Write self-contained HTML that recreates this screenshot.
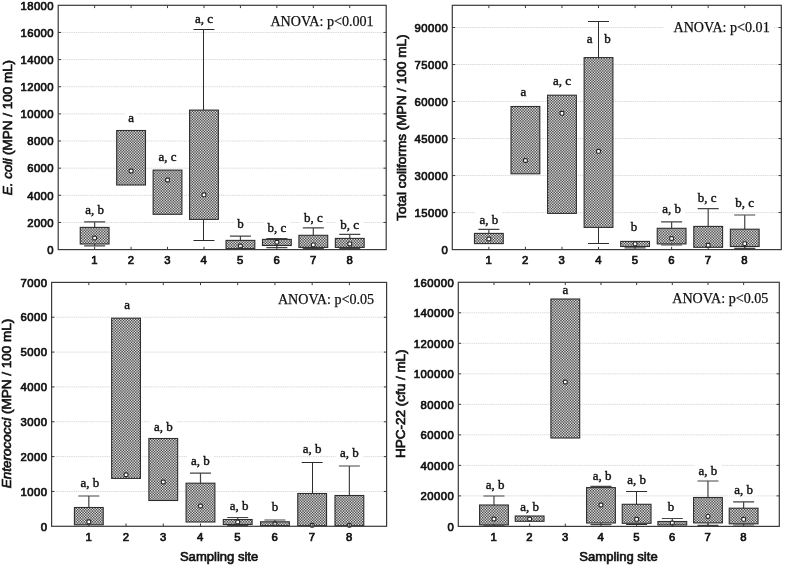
<!DOCTYPE html>
<html lang="en">
<head>
<meta charset="utf-8">
<title>Box plots by sampling site</title>
<style>
html,body{margin:0;padding:0;background:#fff;}
body{width:785px;height:569px;overflow:hidden;}
svg{display:block;}
.tk{font-family:"Liberation Sans", Arial, sans-serif;font-size:11.3px;fill:#111111;stroke:#111;stroke-width:0.7px;letter-spacing:0.45px;}
.lb{font-family:"Liberation Sans", Arial, sans-serif;font-size:12.7px;fill:#111111;stroke:#111;stroke-width:0.65px;}
.lt{font-family:"Liberation Serif", "Times New Roman", serif;font-size:13px;fill:#111111;stroke:#111;stroke-width:0.4px;}
.an{font-family:"Liberation Serif", "Times New Roman", serif;font-size:14.1px;fill:#111111;stroke:#111;stroke-width:0.25px;}
</style>
</head>
<body>
<svg width="785" height="569" viewBox="0 0 785 569">
<defs>
<pattern id="hatch" width="27" height="27" patternUnits="userSpaceOnUse"><rect width="27" height="27" fill="#e4e4e4"/><path d="M0 0h1.35v1.35h-1.35zM0 2.7h1.35v1.35h-1.35zM0 5.4h1.35v1.35h-1.35zM0 8.1h1.35v1.35h-1.35zM0 10.8h1.35v1.35h-1.35zM0 13.5h1.35v1.35h-1.35zM0 16.2h1.35v1.35h-1.35zM0 18.9h1.35v1.35h-1.35zM0 21.6h1.35v1.35h-1.35zM0 24.3h1.35v1.35h-1.35zM1.35 1.35h1.35v1.35h-1.35zM1.35 4.05h1.35v1.35h-1.35zM1.35 6.75h1.35v1.35h-1.35zM1.35 9.45h1.35v1.35h-1.35zM1.35 12.15h1.35v1.35h-1.35zM1.35 14.85h1.35v1.35h-1.35zM1.35 17.55h1.35v1.35h-1.35zM1.35 20.25h1.35v1.35h-1.35zM1.35 22.95h1.35v1.35h-1.35zM1.35 25.65h1.35v1.35h-1.35zM2.7 0h1.35v1.35h-1.35zM2.7 2.7h1.35v1.35h-1.35zM2.7 5.4h1.35v1.35h-1.35zM2.7 8.1h1.35v1.35h-1.35zM2.7 10.8h1.35v1.35h-1.35zM2.7 13.5h1.35v1.35h-1.35zM2.7 16.2h1.35v1.35h-1.35zM2.7 18.9h1.35v1.35h-1.35zM2.7 21.6h1.35v1.35h-1.35zM2.7 24.3h1.35v1.35h-1.35zM4.05 1.35h1.35v1.35h-1.35zM4.05 4.05h1.35v1.35h-1.35zM4.05 6.75h1.35v1.35h-1.35zM4.05 9.45h1.35v1.35h-1.35zM4.05 12.15h1.35v1.35h-1.35zM4.05 14.85h1.35v1.35h-1.35zM4.05 17.55h1.35v1.35h-1.35zM4.05 20.25h1.35v1.35h-1.35zM4.05 22.95h1.35v1.35h-1.35zM4.05 25.65h1.35v1.35h-1.35zM5.4 0h1.35v1.35h-1.35zM5.4 2.7h1.35v1.35h-1.35zM5.4 5.4h1.35v1.35h-1.35zM5.4 8.1h1.35v1.35h-1.35zM5.4 10.8h1.35v1.35h-1.35zM5.4 13.5h1.35v1.35h-1.35zM5.4 16.2h1.35v1.35h-1.35zM5.4 18.9h1.35v1.35h-1.35zM5.4 21.6h1.35v1.35h-1.35zM5.4 24.3h1.35v1.35h-1.35zM6.75 1.35h1.35v1.35h-1.35zM6.75 4.05h1.35v1.35h-1.35zM6.75 6.75h1.35v1.35h-1.35zM6.75 9.45h1.35v1.35h-1.35zM6.75 12.15h1.35v1.35h-1.35zM6.75 14.85h1.35v1.35h-1.35zM6.75 17.55h1.35v1.35h-1.35zM6.75 20.25h1.35v1.35h-1.35zM6.75 22.95h1.35v1.35h-1.35zM6.75 25.65h1.35v1.35h-1.35zM8.1 0h1.35v1.35h-1.35zM8.1 2.7h1.35v1.35h-1.35zM8.1 5.4h1.35v1.35h-1.35zM8.1 8.1h1.35v1.35h-1.35zM8.1 10.8h1.35v1.35h-1.35zM8.1 13.5h1.35v1.35h-1.35zM8.1 16.2h1.35v1.35h-1.35zM8.1 18.9h1.35v1.35h-1.35zM8.1 21.6h1.35v1.35h-1.35zM8.1 24.3h1.35v1.35h-1.35zM9.45 1.35h1.35v1.35h-1.35zM9.45 4.05h1.35v1.35h-1.35zM9.45 6.75h1.35v1.35h-1.35zM9.45 9.45h1.35v1.35h-1.35zM9.45 12.15h1.35v1.35h-1.35zM9.45 14.85h1.35v1.35h-1.35zM9.45 17.55h1.35v1.35h-1.35zM9.45 20.25h1.35v1.35h-1.35zM9.45 22.95h1.35v1.35h-1.35zM9.45 25.65h1.35v1.35h-1.35zM10.8 0h1.35v1.35h-1.35zM10.8 2.7h1.35v1.35h-1.35zM10.8 5.4h1.35v1.35h-1.35zM10.8 8.1h1.35v1.35h-1.35zM10.8 10.8h1.35v1.35h-1.35zM10.8 13.5h1.35v1.35h-1.35zM10.8 16.2h1.35v1.35h-1.35zM10.8 18.9h1.35v1.35h-1.35zM10.8 21.6h1.35v1.35h-1.35zM10.8 24.3h1.35v1.35h-1.35zM12.15 1.35h1.35v1.35h-1.35zM12.15 4.05h1.35v1.35h-1.35zM12.15 6.75h1.35v1.35h-1.35zM12.15 9.45h1.35v1.35h-1.35zM12.15 12.15h1.35v1.35h-1.35zM12.15 14.85h1.35v1.35h-1.35zM12.15 17.55h1.35v1.35h-1.35zM12.15 20.25h1.35v1.35h-1.35zM12.15 22.95h1.35v1.35h-1.35zM12.15 25.65h1.35v1.35h-1.35zM13.5 0h1.35v1.35h-1.35zM13.5 2.7h1.35v1.35h-1.35zM13.5 5.4h1.35v1.35h-1.35zM13.5 8.1h1.35v1.35h-1.35zM13.5 10.8h1.35v1.35h-1.35zM13.5 13.5h1.35v1.35h-1.35zM13.5 16.2h1.35v1.35h-1.35zM13.5 18.9h1.35v1.35h-1.35zM13.5 21.6h1.35v1.35h-1.35zM13.5 24.3h1.35v1.35h-1.35zM14.85 1.35h1.35v1.35h-1.35zM14.85 4.05h1.35v1.35h-1.35zM14.85 6.75h1.35v1.35h-1.35zM14.85 9.45h1.35v1.35h-1.35zM14.85 12.15h1.35v1.35h-1.35zM14.85 14.85h1.35v1.35h-1.35zM14.85 17.55h1.35v1.35h-1.35zM14.85 20.25h1.35v1.35h-1.35zM14.85 22.95h1.35v1.35h-1.35zM14.85 25.65h1.35v1.35h-1.35zM16.2 0h1.35v1.35h-1.35zM16.2 2.7h1.35v1.35h-1.35zM16.2 5.4h1.35v1.35h-1.35zM16.2 8.1h1.35v1.35h-1.35zM16.2 10.8h1.35v1.35h-1.35zM16.2 13.5h1.35v1.35h-1.35zM16.2 16.2h1.35v1.35h-1.35zM16.2 18.9h1.35v1.35h-1.35zM16.2 21.6h1.35v1.35h-1.35zM16.2 24.3h1.35v1.35h-1.35zM17.55 1.35h1.35v1.35h-1.35zM17.55 4.05h1.35v1.35h-1.35zM17.55 6.75h1.35v1.35h-1.35zM17.55 9.45h1.35v1.35h-1.35zM17.55 12.15h1.35v1.35h-1.35zM17.55 14.85h1.35v1.35h-1.35zM17.55 17.55h1.35v1.35h-1.35zM17.55 20.25h1.35v1.35h-1.35zM17.55 22.95h1.35v1.35h-1.35zM17.55 25.65h1.35v1.35h-1.35zM18.9 0h1.35v1.35h-1.35zM18.9 2.7h1.35v1.35h-1.35zM18.9 5.4h1.35v1.35h-1.35zM18.9 8.1h1.35v1.35h-1.35zM18.9 10.8h1.35v1.35h-1.35zM18.9 13.5h1.35v1.35h-1.35zM18.9 16.2h1.35v1.35h-1.35zM18.9 18.9h1.35v1.35h-1.35zM18.9 21.6h1.35v1.35h-1.35zM18.9 24.3h1.35v1.35h-1.35zM20.25 1.35h1.35v1.35h-1.35zM20.25 4.05h1.35v1.35h-1.35zM20.25 6.75h1.35v1.35h-1.35zM20.25 9.45h1.35v1.35h-1.35zM20.25 12.15h1.35v1.35h-1.35zM20.25 14.85h1.35v1.35h-1.35zM20.25 17.55h1.35v1.35h-1.35zM20.25 20.25h1.35v1.35h-1.35zM20.25 22.95h1.35v1.35h-1.35zM20.25 25.65h1.35v1.35h-1.35zM21.6 0h1.35v1.35h-1.35zM21.6 2.7h1.35v1.35h-1.35zM21.6 5.4h1.35v1.35h-1.35zM21.6 8.1h1.35v1.35h-1.35zM21.6 10.8h1.35v1.35h-1.35zM21.6 13.5h1.35v1.35h-1.35zM21.6 16.2h1.35v1.35h-1.35zM21.6 18.9h1.35v1.35h-1.35zM21.6 21.6h1.35v1.35h-1.35zM21.6 24.3h1.35v1.35h-1.35zM22.95 1.35h1.35v1.35h-1.35zM22.95 4.05h1.35v1.35h-1.35zM22.95 6.75h1.35v1.35h-1.35zM22.95 9.45h1.35v1.35h-1.35zM22.95 12.15h1.35v1.35h-1.35zM22.95 14.85h1.35v1.35h-1.35zM22.95 17.55h1.35v1.35h-1.35zM22.95 20.25h1.35v1.35h-1.35zM22.95 22.95h1.35v1.35h-1.35zM22.95 25.65h1.35v1.35h-1.35zM24.3 0h1.35v1.35h-1.35zM24.3 2.7h1.35v1.35h-1.35zM24.3 5.4h1.35v1.35h-1.35zM24.3 8.1h1.35v1.35h-1.35zM24.3 10.8h1.35v1.35h-1.35zM24.3 13.5h1.35v1.35h-1.35zM24.3 16.2h1.35v1.35h-1.35zM24.3 18.9h1.35v1.35h-1.35zM24.3 21.6h1.35v1.35h-1.35zM24.3 24.3h1.35v1.35h-1.35zM25.65 1.35h1.35v1.35h-1.35zM25.65 4.05h1.35v1.35h-1.35zM25.65 6.75h1.35v1.35h-1.35zM25.65 9.45h1.35v1.35h-1.35zM25.65 12.15h1.35v1.35h-1.35zM25.65 14.85h1.35v1.35h-1.35zM25.65 17.55h1.35v1.35h-1.35zM25.65 20.25h1.35v1.35h-1.35zM25.65 22.95h1.35v1.35h-1.35zM25.65 25.65h1.35v1.35h-1.35z" fill="#454545"/></pattern>
</defs>
<rect width="785" height="569" fill="#ffffff"/>
<g id="panel1">
<path d="M58.2 222.46H386.2M58.2 195.31H386.2M58.2 168.17H386.2M58.2 141.02H386.2M58.2 113.88H386.2M58.2 86.73H386.2M58.2 59.59H386.2M58.2 32.44H386.2" stroke="#d9d9d9" stroke-width="1" stroke-dasharray="1.4 0.8" fill="none"/>
<path d="M84.14 221.9H105.14M94.64 221.9V227.4M84.14 245.9H105.14M94.64 245.9V244" stroke="#444444" stroke-width="1.2" fill="none"/>
<rect x="80.24" y="227.4" width="28.8" height="16.6" fill="url(#hatch)" stroke="#2e2e2e" stroke-width="1.1"/>
<rect x="92.74" y="236.1" width="3.8" height="3.8" rx="1.2" fill="#fff" stroke="#262626" stroke-width="1.15"/>
<rect x="116.69" y="130.5" width="28.8" height="54.5" fill="url(#hatch)" stroke="#2e2e2e" stroke-width="1.1"/>
<rect x="129.19" y="169.1" width="3.8" height="3.8" rx="1.2" fill="#fff" stroke="#262626" stroke-width="1.15"/>
<rect x="153.13" y="170.1" width="28.8" height="44.2" fill="url(#hatch)" stroke="#2e2e2e" stroke-width="1.1"/>
<rect x="165.63" y="178.1" width="3.8" height="3.8" rx="1.2" fill="#fff" stroke="#262626" stroke-width="1.15"/>
<path d="M193.48 29.5H214.48M203.5 29.5V110.1M193.48 240.5H214.48M203.5 240.5V219.4" stroke="#2c2c2c" stroke-width="1" fill="none"/>
<rect x="189.58" y="110.1" width="28.8" height="109.3" fill="url(#hatch)" stroke="#2e2e2e" stroke-width="1.1"/>
<rect x="202.08" y="192.9" width="3.8" height="3.8" rx="1.2" fill="#fff" stroke="#262626" stroke-width="1.15"/>
<path d="M229.92 236.2H250.92M240.42 236.2V240.4" stroke="#444444" stroke-width="1.2" fill="none"/>
<rect x="226.02" y="240.4" width="28.8" height="8.2" fill="url(#hatch)" stroke="#2e2e2e" stroke-width="1.1"/>
<rect x="238.52" y="244.1" width="3.8" height="3.8" rx="1.2" fill="#fff" stroke="#262626" stroke-width="1.15"/>
<path d="M266.37 238.5H287.37M276.87 238.5V239.4M266.37 247.7H287.37M276.87 247.7V245.5" stroke="#444444" stroke-width="1.2" fill="none"/>
<rect x="262.47" y="239.4" width="28.8" height="6.1" fill="url(#hatch)" stroke="#2e2e2e" stroke-width="1.1"/>
<rect x="274.97" y="240.3" width="3.8" height="3.8" rx="1.2" fill="#fff" stroke="#262626" stroke-width="1.15"/>
<path d="M302.81 227.9H323.81M313.31 227.9V235.3M302.81 248.3H323.81M313.31 248.3V247.4" stroke="#444444" stroke-width="1.2" fill="none"/>
<rect x="298.91" y="235.3" width="28.8" height="12.1" fill="url(#hatch)" stroke="#2e2e2e" stroke-width="1.1"/>
<rect x="311.41" y="243" width="3.8" height="3.8" rx="1.2" fill="#fff" stroke="#262626" stroke-width="1.15"/>
<path d="M339.26 234.3H360.26M349.76 234.3V238.4M339.26 248.3H360.26M349.76 248.3V247.4" stroke="#444444" stroke-width="1.2" fill="none"/>
<rect x="335.36" y="238.4" width="28.8" height="9" fill="url(#hatch)" stroke="#2e2e2e" stroke-width="1.1"/>
<rect x="347.86" y="242" width="3.8" height="3.8" rx="1.2" fill="#fff" stroke="#262626" stroke-width="1.15"/>
<rect x="81.14" y="201" width="27" height="15" fill="#fff"/>
<text class="lt" x="94.64" y="214" text-anchor="middle">a, b</text>
<rect x="125.09" y="109.2" width="12" height="15" fill="#fff"/>
<text class="lt" x="131.09" y="122.2" text-anchor="middle">a</text>
<rect x="154.03" y="147.8" width="27" height="15" fill="#fff"/>
<text class="lt" x="167.53" y="160.8" text-anchor="middle">a, c</text>
<rect x="190.48" y="9.9" width="27" height="15" fill="#fff"/>
<text class="lt" x="203.98" y="22.9" text-anchor="middle">a, c</text>
<rect x="234.42" y="215.3" width="12" height="15" fill="#fff"/>
<text class="lt" x="240.42" y="228.3" text-anchor="middle">b</text>
<rect x="263.37" y="219" width="27" height="15" fill="#fff"/>
<text class="lt" x="276.87" y="232" text-anchor="middle">b, c</text>
<rect x="299.81" y="208.6" width="27" height="15" fill="#fff"/>
<text class="lt" x="313.31" y="221.6" text-anchor="middle">b, c</text>
<rect x="336.26" y="215.6" width="27" height="15" fill="#fff"/>
<text class="lt" x="349.76" y="228.6" text-anchor="middle">b, c</text>
<rect x="267.6" y="13.9" width="110" height="16" fill="#fff"/>
<text class="an" x="373.6" y="25.9" text-anchor="end">ANOVA: p&lt;0.001</text>
<path d="M58.2 222.46h2.8M386.2 222.46h-2.8M58.2 195.31h2.8M386.2 195.31h-2.8M58.2 168.17h2.8M386.2 168.17h-2.8M58.2 141.02h2.8M386.2 141.02h-2.8M58.2 113.88h2.8M386.2 113.88h-2.8M58.2 86.73h2.8M386.2 86.73h-2.8M58.2 59.59h2.8M386.2 59.59h-2.8M58.2 32.44h2.8M386.2 32.44h-2.8M94.64 249.6v-2.8M94.64 5.3v2.8M131.09 249.6v-2.8M131.09 5.3v2.8M167.53 249.6v-2.8M167.53 5.3v2.8M203.98 249.6v-2.8M203.98 5.3v2.8M240.42 249.6v-2.8M240.42 5.3v2.8M276.87 249.6v-2.8M276.87 5.3v2.8M313.31 249.6v-2.8M313.31 5.3v2.8M349.76 249.6v-2.8M349.76 5.3v2.8" stroke="#3a3a3a" stroke-width="1" fill="none"/>
<rect x="58.2" y="5.3" width="328" height="244.3" fill="none" stroke="#3a3a3a" stroke-width="1.2"/>
<text class="tk" x="54.1" y="253.85" text-anchor="end">0</text>
<text class="tk" x="54.1" y="226.71" text-anchor="end">2000</text>
<text class="tk" x="54.1" y="199.56" text-anchor="end">4000</text>
<text class="tk" x="54.1" y="172.42" text-anchor="end">6000</text>
<text class="tk" x="54.1" y="145.27" text-anchor="end">8000</text>
<text class="tk" x="54.1" y="118.13" text-anchor="end">10000</text>
<text class="tk" x="54.1" y="90.98" text-anchor="end">12000</text>
<text class="tk" x="54.1" y="63.84" text-anchor="end">14000</text>
<text class="tk" x="54.1" y="36.69" text-anchor="end">16000</text>
<text class="tk" x="54.1" y="9.55" text-anchor="end">18000</text>
<text class="tk" x="94.64" y="264.2" text-anchor="middle">1</text>
<text class="tk" x="131.09" y="264.2" text-anchor="middle">2</text>
<text class="tk" x="167.53" y="264.2" text-anchor="middle">3</text>
<text class="tk" x="203.98" y="264.2" text-anchor="middle">4</text>
<text class="tk" x="240.42" y="264.2" text-anchor="middle">5</text>
<text class="tk" x="276.87" y="264.2" text-anchor="middle">6</text>
<text class="tk" x="313.31" y="264.2" text-anchor="middle">7</text>
<text class="tk" x="349.76" y="264.2" text-anchor="middle">8</text>
<text class="lb" transform="translate(11.7 127.6) rotate(-90)" text-anchor="middle" textLength="135.4" lengthAdjust="spacingAndGlyphs" xml:space="preserve"><tspan font-style="italic">E. coli</tspan> (MPN / 100 mL)</text>
</g>
<g id="panel2">
<path d="M452.3 212.58H781.3M452.3 175.57H781.3M452.3 138.55H781.3M452.3 101.54H781.3M452.3 64.52H781.3M452.3 27.51H781.3" stroke="#d9d9d9" stroke-width="1" stroke-dasharray="1.4 0.8" fill="none"/>
<path d="M478.36 229.3H499.36M488.86 229.3V233.4" stroke="#444444" stroke-width="1.2" fill="none"/>
<rect x="474.46" y="233.4" width="28.8" height="10.2" fill="url(#hatch)" stroke="#2e2e2e" stroke-width="1.1"/>
<rect x="486.96" y="237.1" width="3.8" height="3.8" rx="1.2" fill="#fff" stroke="#262626" stroke-width="1.15"/>
<rect x="511.01" y="106.5" width="28.8" height="67.3" fill="url(#hatch)" stroke="#2e2e2e" stroke-width="1.1"/>
<rect x="523.51" y="158.6" width="3.8" height="3.8" rx="1.2" fill="#fff" stroke="#262626" stroke-width="1.15"/>
<rect x="547.57" y="95.2" width="28.8" height="118.2" fill="url(#hatch)" stroke="#2e2e2e" stroke-width="1.1"/>
<rect x="560.07" y="111.4" width="3.8" height="3.8" rx="1.2" fill="#fff" stroke="#262626" stroke-width="1.15"/>
<path d="M588.02 21.5H609.02M598.5 21.5V57.6M588.02 243.5H609.02M598.5 243.5V227.4" stroke="#2c2c2c" stroke-width="1" fill="none"/>
<rect x="584.12" y="57.6" width="28.8" height="169.8" fill="url(#hatch)" stroke="#2e2e2e" stroke-width="1.1"/>
<rect x="596.62" y="149.4" width="3.8" height="3.8" rx="1.2" fill="#fff" stroke="#262626" stroke-width="1.15"/>
<path d="M624.58 247.9H645.58M635.08 247.9V246.5" stroke="#444444" stroke-width="1.2" fill="none"/>
<rect x="620.68" y="241.4" width="28.8" height="5.1" fill="url(#hatch)" stroke="#2e2e2e" stroke-width="1.1"/>
<rect x="633.18" y="242" width="3.8" height="3.8" rx="1.2" fill="#fff" stroke="#262626" stroke-width="1.15"/>
<path d="M661.13 221.9H682.13M671.63 221.9V228.3M661.13 245H682.13M671.63 245V243.9" stroke="#444444" stroke-width="1.2" fill="none"/>
<rect x="657.23" y="228.3" width="28.8" height="15.6" fill="url(#hatch)" stroke="#2e2e2e" stroke-width="1.1"/>
<rect x="669.73" y="236.6" width="3.8" height="3.8" rx="1.2" fill="#fff" stroke="#262626" stroke-width="1.15"/>
<path d="M697.69 208.7H718.69M708.19 208.7V226.4" stroke="#444444" stroke-width="1.2" fill="none"/>
<rect x="693.79" y="226.4" width="28.8" height="20.9" fill="url(#hatch)" stroke="#2e2e2e" stroke-width="1.1"/>
<rect x="706.29" y="243.3" width="3.8" height="3.8" rx="1.2" fill="#fff" stroke="#262626" stroke-width="1.15"/>
<path d="M734.24 215H755.24M744.74 215V229.2M734.24 248.3H755.24M744.74 248.3V246.5" stroke="#444444" stroke-width="1.2" fill="none"/>
<rect x="730.34" y="229.2" width="28.8" height="17.3" fill="url(#hatch)" stroke="#2e2e2e" stroke-width="1.1"/>
<rect x="742.84" y="241.7" width="3.8" height="3.8" rx="1.2" fill="#fff" stroke="#262626" stroke-width="1.15"/>
<rect x="475.36" y="211" width="27" height="15" fill="#fff"/>
<text class="lt" x="488.86" y="224" text-anchor="middle">a, b</text>
<rect x="517.41" y="82.8" width="12" height="15" fill="#fff"/>
<text class="lt" x="523.41" y="95.8" text-anchor="middle">a</text>
<rect x="548.47" y="72" width="27" height="15" fill="#fff"/>
<text class="lt" x="561.97" y="85" text-anchor="middle">a, c</text>
<text class="lt" x="589.52" y="42.9" text-anchor="middle">a</text>
<text class="lt" x="607.52" y="42.9" text-anchor="middle">b</text>
<rect x="628.08" y="218" width="12" height="15" fill="#fff"/>
<text class="lt" x="634.08" y="231" text-anchor="middle">b</text>
<rect x="658.13" y="199.8" width="27" height="15" fill="#fff"/>
<text class="lt" x="671.63" y="212.8" text-anchor="middle">a, b</text>
<rect x="693.69" y="188.5" width="27" height="15" fill="#fff"/>
<text class="lt" x="707.19" y="201.5" text-anchor="middle">b, c</text>
<rect x="731.24" y="193.9" width="27" height="15" fill="#fff"/>
<text class="lt" x="744.74" y="206.9" text-anchor="middle">b, c</text>
<rect x="663.7" y="20.2" width="110" height="16" fill="#fff"/>
<text class="an" x="769.7" y="32.2" text-anchor="end">ANOVA: p&lt;0.01</text>
<path d="M452.3 212.58h2.8M781.3 212.58h-2.8M452.3 175.57h2.8M781.3 175.57h-2.8M452.3 138.55h2.8M781.3 138.55h-2.8M452.3 101.54h2.8M781.3 101.54h-2.8M452.3 64.52h2.8M781.3 64.52h-2.8M452.3 27.51h2.8M781.3 27.51h-2.8M488.86 249.6v-2.8M488.86 5.3v2.8M525.41 249.6v-2.8M525.41 5.3v2.8M561.97 249.6v-2.8M561.97 5.3v2.8M598.52 249.6v-2.8M598.52 5.3v2.8M635.08 249.6v-2.8M635.08 5.3v2.8M671.63 249.6v-2.8M671.63 5.3v2.8M708.19 249.6v-2.8M708.19 5.3v2.8M744.74 249.6v-2.8M744.74 5.3v2.8" stroke="#3a3a3a" stroke-width="1" fill="none"/>
<rect x="452.3" y="5.3" width="329" height="244.3" fill="none" stroke="#3a3a3a" stroke-width="1.2"/>
<text class="tk" x="448.2" y="253.85" text-anchor="end">0</text>
<text class="tk" x="448.2" y="216.83" text-anchor="end">15000</text>
<text class="tk" x="448.2" y="179.82" text-anchor="end">30000</text>
<text class="tk" x="448.2" y="142.8" text-anchor="end">45000</text>
<text class="tk" x="448.2" y="105.79" text-anchor="end">60000</text>
<text class="tk" x="448.2" y="68.77" text-anchor="end">75000</text>
<text class="tk" x="448.2" y="31.76" text-anchor="end">90000</text>
<text class="tk" x="488.86" y="264.2" text-anchor="middle">1</text>
<text class="tk" x="525.41" y="264.2" text-anchor="middle">2</text>
<text class="tk" x="561.97" y="264.2" text-anchor="middle">3</text>
<text class="tk" x="598.52" y="264.2" text-anchor="middle">4</text>
<text class="tk" x="635.08" y="264.2" text-anchor="middle">5</text>
<text class="tk" x="671.63" y="264.2" text-anchor="middle">6</text>
<text class="tk" x="708.19" y="264.2" text-anchor="middle">7</text>
<text class="tk" x="744.74" y="264.2" text-anchor="middle">8</text>
<text class="lb" transform="translate(406 127.6) rotate(-90)" text-anchor="middle" textLength="186.4" lengthAdjust="spacingAndGlyphs" xml:space="preserve">Total coliforms (MPN / 100 mL)</text>
</g>
<g id="panel3">
<path d="M51.6 491.46H386.6M51.6 456.61H386.6M51.6 421.77H386.6M51.6 386.93H386.6M51.6 352.09H386.6M51.6 317.24H386.6" stroke="#d9d9d9" stroke-width="1" stroke-dasharray="1.4 0.8" fill="none"/>
<path d="M78.32 496H99.32M88.82 496V507.5" stroke="#444444" stroke-width="1.2" fill="none"/>
<rect x="74.42" y="507.5" width="28.8" height="17.3" fill="url(#hatch)" stroke="#2e2e2e" stroke-width="1.1"/>
<rect x="86.92" y="519.9" width="3.8" height="3.8" rx="1.2" fill="#fff" stroke="#262626" stroke-width="1.15"/>
<rect x="111.64" y="318.2" width="28.8" height="160.2" fill="url(#hatch)" stroke="#2e2e2e" stroke-width="1.1"/>
<rect x="124.14" y="472.8" width="3.8" height="3.8" rx="1.2" fill="#fff" stroke="#262626" stroke-width="1.15"/>
<rect x="148.87" y="438.5" width="28.8" height="62" fill="url(#hatch)" stroke="#2e2e2e" stroke-width="1.1"/>
<rect x="161.37" y="480.1" width="3.8" height="3.8" rx="1.2" fill="#fff" stroke="#262626" stroke-width="1.15"/>
<path d="M189.99 473.2H210.99M200.49 473.2V483.2" stroke="#444444" stroke-width="1.2" fill="none"/>
<rect x="186.09" y="483.2" width="28.8" height="38.8" fill="url(#hatch)" stroke="#2e2e2e" stroke-width="1.1"/>
<rect x="198.59" y="504.1" width="3.8" height="3.8" rx="1.2" fill="#fff" stroke="#262626" stroke-width="1.15"/>
<path d="M227.21 517.5H248.21M237.71 517.5V519.5M227.21 525.6H248.21M237.71 525.6V524.5" stroke="#444444" stroke-width="1.2" fill="none"/>
<rect x="223.31" y="519.5" width="28.8" height="5" fill="url(#hatch)" stroke="#2e2e2e" stroke-width="1.1"/>
<rect x="235.81" y="520.1" width="3.8" height="3.8" rx="1.2" fill="#fff" stroke="#262626" stroke-width="1.15"/>
<path d="M264.43 520H285.43M274.93 520V521.8" stroke="#444444" stroke-width="1.2" fill="none"/>
<rect x="260.53" y="521.8" width="28.8" height="3.8" fill="url(#hatch)" stroke="#2e2e2e" stroke-width="1.1"/>
<rect x="273.03" y="522.1" width="3.8" height="3.8" rx="1.2" fill="#fff" stroke="#262626" stroke-width="1.15"/>
<path d="M301.66 462.5H322.66M312.5 462.5V493.5" stroke="#2c2c2c" stroke-width="1" fill="none"/>
<rect x="297.76" y="493.5" width="28.8" height="32.2" fill="url(#hatch)" stroke="#2e2e2e" stroke-width="1.1"/>
<rect x="310.26" y="523.3" width="3.8" height="3.8" rx="1.2" fill="#fff" stroke="#262626" stroke-width="1.15"/>
<path d="M338.88 466H359.88M349.38 466V495.5" stroke="#444444" stroke-width="1.2" fill="none"/>
<rect x="334.98" y="495.5" width="28.8" height="30.2" fill="url(#hatch)" stroke="#2e2e2e" stroke-width="1.1"/>
<rect x="347.48" y="523.3" width="3.8" height="3.8" rx="1.2" fill="#fff" stroke="#262626" stroke-width="1.15"/>
<rect x="76.32" y="473.8" width="27" height="15" fill="#fff"/>
<text class="lt" x="89.82" y="486.8" text-anchor="middle">a, b</text>
<rect x="121.14" y="296" width="12" height="15" fill="#fff"/>
<text class="lt" x="127.14" y="309" text-anchor="middle">a</text>
<rect x="149.77" y="418" width="27" height="15" fill="#fff"/>
<text class="lt" x="163.27" y="431" text-anchor="middle">a, b</text>
<rect x="186.99" y="451.6" width="27" height="15" fill="#fff"/>
<text class="lt" x="200.49" y="464.6" text-anchor="middle">a, b</text>
<rect x="225.61" y="496.7" width="27" height="15" fill="#fff"/>
<text class="lt" x="239.11" y="509.7" text-anchor="middle">a, b</text>
<rect x="268.93" y="497.7" width="12" height="15" fill="#fff"/>
<text class="lt" x="274.93" y="510.7" text-anchor="middle">b</text>
<rect x="298.66" y="439.5" width="27" height="15" fill="#fff"/>
<text class="lt" x="312.16" y="452.5" text-anchor="middle">a, b</text>
<rect x="335.88" y="444.2" width="27" height="15" fill="#fff"/>
<text class="lt" x="349.38" y="457.2" text-anchor="middle">a, b</text>
<rect x="268.1" y="291.9" width="110" height="16" fill="#fff"/>
<text class="an" x="374.1" y="303.9" text-anchor="end">ANOVA: p&lt;0.05</text>
<path d="M51.6 491.46h2.8M386.6 491.46h-2.8M51.6 456.61h2.8M386.6 456.61h-2.8M51.6 421.77h2.8M386.6 421.77h-2.8M51.6 386.93h2.8M386.6 386.93h-2.8M51.6 352.09h2.8M386.6 352.09h-2.8M51.6 317.24h2.8M386.6 317.24h-2.8M88.82 526.3v-2.8M88.82 282.4v2.8M126.04 526.3v-2.8M126.04 282.4v2.8M163.27 526.3v-2.8M163.27 282.4v2.8M200.49 526.3v-2.8M200.49 282.4v2.8M237.71 526.3v-2.8M237.71 282.4v2.8M274.93 526.3v-2.8M274.93 282.4v2.8M312.16 526.3v-2.8M312.16 282.4v2.8M349.38 526.3v-2.8M349.38 282.4v2.8" stroke="#3a3a3a" stroke-width="1" fill="none"/>
<rect x="51.6" y="282.4" width="335" height="243.9" fill="none" stroke="#3a3a3a" stroke-width="1.2"/>
<text class="tk" x="47.5" y="530.55" text-anchor="end">0</text>
<text class="tk" x="47.5" y="495.71" text-anchor="end">1000</text>
<text class="tk" x="47.5" y="460.86" text-anchor="end">2000</text>
<text class="tk" x="47.5" y="426.02" text-anchor="end">3000</text>
<text class="tk" x="47.5" y="391.18" text-anchor="end">4000</text>
<text class="tk" x="47.5" y="356.34" text-anchor="end">5000</text>
<text class="tk" x="47.5" y="321.49" text-anchor="end">6000</text>
<text class="tk" x="47.5" y="286.65" text-anchor="end">7000</text>
<text class="tk" x="88.82" y="540.9" text-anchor="middle">1</text>
<text class="tk" x="126.04" y="540.9" text-anchor="middle">2</text>
<text class="tk" x="163.27" y="540.9" text-anchor="middle">3</text>
<text class="tk" x="200.49" y="540.9" text-anchor="middle">4</text>
<text class="tk" x="237.71" y="540.9" text-anchor="middle">5</text>
<text class="tk" x="274.93" y="540.9" text-anchor="middle">6</text>
<text class="tk" x="312.16" y="540.9" text-anchor="middle">7</text>
<text class="tk" x="349.38" y="540.9" text-anchor="middle">8</text>
<text class="lb" transform="translate(11.3 403.6) rotate(-90)" text-anchor="middle" textLength="169.5" lengthAdjust="spacingAndGlyphs" xml:space="preserve"><tspan font-style="italic">Enterococci</tspan> (MPN / 100 mL)</text>
<text class="lb" x="219.1" y="560.7" text-anchor="middle" style="font-size:13.05px">Sampling site</text>
</g>
<g id="panel4">
<path d="M458.3 495.89H779.3M458.3 465.38H779.3M458.3 434.86H779.3M458.3 404.35H779.3M458.3 373.84H779.3M458.3 343.32H779.3M458.3 312.81H779.3" stroke="#d9d9d9" stroke-width="1" stroke-dasharray="1.4 0.8" fill="none"/>
<path d="M483.47 496H504.47M493.97 496V505M483.47 525.8H504.47M493.97 525.8V524.9" stroke="#444444" stroke-width="1.2" fill="none"/>
<rect x="479.57" y="505" width="28.8" height="19.9" fill="url(#hatch)" stroke="#2e2e2e" stroke-width="1.1"/>
<rect x="492.07" y="517.1" width="3.8" height="3.8" rx="1.2" fill="#fff" stroke="#262626" stroke-width="1.15"/>
<rect x="515.23" y="516" width="28.8" height="5.3" fill="url(#hatch)" stroke="#2e2e2e" stroke-width="1.1"/>
<rect x="527.73" y="517.1" width="3.8" height="3.8" rx="1.2" fill="#fff" stroke="#262626" stroke-width="1.15"/>
<rect x="550.9" y="299" width="28.8" height="139" fill="url(#hatch)" stroke="#2e2e2e" stroke-width="1.1"/>
<rect x="563.4" y="380.1" width="3.8" height="3.8" rx="1.2" fill="#fff" stroke="#262626" stroke-width="1.15"/>
<path d="M590.47 486.3H611.47M600.97 486.3V487.6M590.47 524.7H611.47M600.97 524.7V523" stroke="#444444" stroke-width="1.2" fill="none"/>
<rect x="586.57" y="487.6" width="28.8" height="35.4" fill="url(#hatch)" stroke="#2e2e2e" stroke-width="1.1"/>
<rect x="599.07" y="503.1" width="3.8" height="3.8" rx="1.2" fill="#fff" stroke="#262626" stroke-width="1.15"/>
<path d="M626.13 491.5H647.13M636.5 491.5V504.3M626.13 524.5H647.13M636.5 524.5V523.3" stroke="#2c2c2c" stroke-width="1" fill="none"/>
<rect x="622.23" y="504.3" width="28.8" height="19" fill="url(#hatch)" stroke="#2e2e2e" stroke-width="1.1"/>
<rect x="634.73" y="517.4" width="3.8" height="3.8" rx="1.2" fill="#fff" stroke="#262626" stroke-width="1.15"/>
<path d="M661.8 518.5H682.8M672.3 518.5V521.5" stroke="#444444" stroke-width="1.2" fill="none"/>
<rect x="657.9" y="521.5" width="28.8" height="3.5" fill="url(#hatch)" stroke="#2e2e2e" stroke-width="1.1"/>
<rect x="670.4" y="521.1" width="3.8" height="3.8" rx="1.2" fill="#fff" stroke="#262626" stroke-width="1.15"/>
<path d="M697.47 481H718.47M707.97 481V497.5M697.47 525.3H718.47M707.97 525.3V522.9" stroke="#444444" stroke-width="1.2" fill="none"/>
<rect x="693.57" y="497.5" width="28.8" height="25.4" fill="url(#hatch)" stroke="#2e2e2e" stroke-width="1.1"/>
<rect x="706.07" y="514.5" width="3.8" height="3.8" rx="1.2" fill="#fff" stroke="#262626" stroke-width="1.15"/>
<path d="M733.13 501.8H754.13M743.63 501.8V508.2M733.13 525H754.13M743.63 525V523.8" stroke="#444444" stroke-width="1.2" fill="none"/>
<rect x="729.23" y="508.2" width="28.8" height="15.6" fill="url(#hatch)" stroke="#2e2e2e" stroke-width="1.1"/>
<rect x="741.73" y="517.4" width="3.8" height="3.8" rx="1.2" fill="#fff" stroke="#262626" stroke-width="1.15"/>
<rect x="481.67" y="476.2" width="27" height="15" fill="#fff"/>
<text class="lt" x="495.17" y="489.2" text-anchor="middle">a, b</text>
<rect x="516.13" y="497.6" width="27" height="15" fill="#fff"/>
<text class="lt" x="529.63" y="510.6" text-anchor="middle">a, b</text>
<rect x="559.3" y="281.3" width="12" height="15" fill="#fff"/>
<text class="lt" x="565.3" y="294.3" text-anchor="middle">a</text>
<rect x="588.67" y="467" width="27" height="15" fill="#fff"/>
<text class="lt" x="602.17" y="480" text-anchor="middle">a, b</text>
<rect x="623.13" y="471" width="27" height="15" fill="#fff"/>
<text class="lt" x="636.63" y="484" text-anchor="middle">a, b</text>
<rect x="665.1" y="498" width="12" height="15" fill="#fff"/>
<text class="lt" x="671.1" y="511" text-anchor="middle">b</text>
<rect x="694.47" y="462.4" width="27" height="15" fill="#fff"/>
<text class="lt" x="707.97" y="475.4" text-anchor="middle">a, b</text>
<rect x="730.13" y="480.6" width="27" height="15" fill="#fff"/>
<text class="lt" x="743.63" y="493.6" text-anchor="middle">a, b</text>
<rect x="662.4" y="290.8" width="110" height="16" fill="#fff"/>
<text class="an" x="768.4" y="302.8" text-anchor="end">ANOVA: p&lt;0.05</text>
<path d="M458.3 495.89h2.8M779.3 495.89h-2.8M458.3 465.38h2.8M779.3 465.38h-2.8M458.3 434.86h2.8M779.3 434.86h-2.8M458.3 404.35h2.8M779.3 404.35h-2.8M458.3 373.84h2.8M779.3 373.84h-2.8M458.3 343.32h2.8M779.3 343.32h-2.8M458.3 312.81h2.8M779.3 312.81h-2.8M493.97 526.4v-2.8M493.97 282.3v2.8M529.63 526.4v-2.8M529.63 282.3v2.8M565.3 526.4v-2.8M565.3 282.3v2.8M600.97 526.4v-2.8M600.97 282.3v2.8M636.63 526.4v-2.8M636.63 282.3v2.8M672.3 526.4v-2.8M672.3 282.3v2.8M707.97 526.4v-2.8M707.97 282.3v2.8M743.63 526.4v-2.8M743.63 282.3v2.8" stroke="#3a3a3a" stroke-width="1" fill="none"/>
<rect x="458.3" y="282.3" width="321" height="244.1" fill="none" stroke="#3a3a3a" stroke-width="1.2"/>
<text class="tk" x="454.2" y="530.65" text-anchor="end">0</text>
<text class="tk" x="454.2" y="500.14" text-anchor="end">20000</text>
<text class="tk" x="454.2" y="469.62" text-anchor="end">40000</text>
<text class="tk" x="454.2" y="439.11" text-anchor="end">60000</text>
<text class="tk" x="454.2" y="408.6" text-anchor="end">80000</text>
<text class="tk" x="454.2" y="378.09" text-anchor="end">100000</text>
<text class="tk" x="454.2" y="347.57" text-anchor="end">120000</text>
<text class="tk" x="454.2" y="317.06" text-anchor="end">140000</text>
<text class="tk" x="454.2" y="286.55" text-anchor="end">160000</text>
<text class="tk" x="493.97" y="541" text-anchor="middle">1</text>
<text class="tk" x="529.63" y="541" text-anchor="middle">2</text>
<text class="tk" x="565.3" y="541" text-anchor="middle">3</text>
<text class="tk" x="600.97" y="541" text-anchor="middle">4</text>
<text class="tk" x="636.63" y="541" text-anchor="middle">5</text>
<text class="tk" x="672.3" y="541" text-anchor="middle">6</text>
<text class="tk" x="707.97" y="541" text-anchor="middle">7</text>
<text class="tk" x="743.63" y="541" text-anchor="middle">8</text>
<text class="lb" transform="translate(404.7 403.7) rotate(-90)" text-anchor="middle" textLength="108.6" lengthAdjust="spacingAndGlyphs" xml:space="preserve">HPC-22 (cfu / mL)</text>
<text class="lb" x="618.5" y="560.7" text-anchor="middle" style="font-size:13.05px">Sampling site</text>
</g>
</svg>
</body>
</html>
